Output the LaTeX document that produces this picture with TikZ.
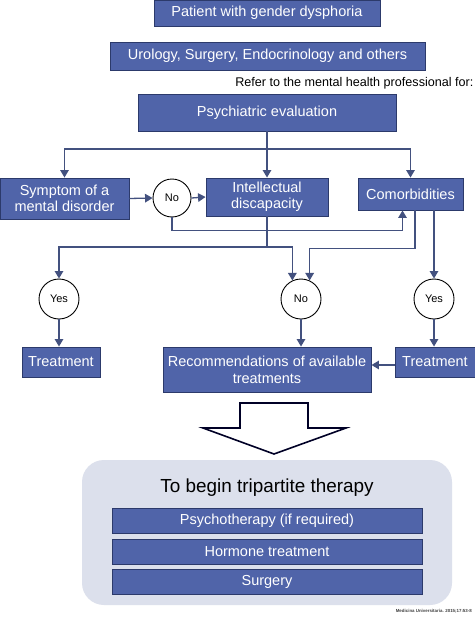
\documentclass[tikz,border=0pt]{standalone}
\usepackage{fontspec}
\setmainfont{Liberation Sans}
\usetikzlibrary{arrows.meta}
\definecolor{boxfill}{HTML}{5064A9}
\definecolor{boxline}{HTML}{2C3A6B}
\definecolor{conn}{HTML}{43517F}
\definecolor{panel}{HTML}{DCE0EC}
\tikzset{
  bluebox/.style={draw=boxline, line width=0.9pt, fill=boxfill, text=white, font=\fontsize{14.5}{16}\selectfont, align=center, inner sep=0pt, rectangle},
  decision/.style={circle, draw=black, line width=0.9pt, fill=white, minimum size=40pt, inner sep=0pt, font=\fontsize{11}{12}\selectfont},
  conline/.style={draw=conn, line width=1.3pt},
  arr/.style={conline, -{Triangle[width=8.5pt,length=7.5pt]}},
  note/.style={font=\fontsize{12.6}{14}\selectfont, text=black, inner sep=0pt},
  bigarrow/.style={draw=black!85!blue, line width=1.6pt, fill=white, line join=miter},
}
\begin{document}
\begin{tikzpicture}[x=1pt,y=-1pt]
\useasboundingbox (0,0) rectangle (474,618);
\fill[white] (0,0) rectangle (474,618);

% top boxes
\node[bluebox, minimum width=226pt, minimum height=26pt] (patient) at (267,13) {Patient with gender dysphoria};
\node[bluebox, minimum width=315pt, minimum height=28pt] (urology) at (267.5,56) {Urology, Surgery, Endocrinology and others};
\node[note, anchor=east] (refer) at (473.6,83.5) {Refer to the mental health professional for:};
\node[bluebox, minimum width=258pt, minimum height=37pt] (psych) at (267,112.5) {Psychiatric evaluation};

% second row
\node[bluebox, minimum width=129pt, minimum height=41pt] (symptom) at (64.5,198.5) {Symptom of a\\mental disorder};
\node[decision, minimum size=38pt] (no1) at (172,198) {No};
\node[bluebox, minimum width=122pt, minimum height=38pt] (intel) at (267,197) {Intellectual\\discapacity};
\node[bluebox, minimum width=105pt, minimum height=32pt] (comorb) at (410.5,194) {Comorbidities};

% third row
\node[decision] (yesL) at (59,299) {Yes};
\node[decision] (no2) at (301,299) {No};
\node[decision] (yesR) at (434,299) {Yes};

% fourth row
\node[bluebox, minimum width=78pt, minimum height=30pt] (treatL) at (61,362) {Treatment};
\node[bluebox, minimum width=208pt, minimum height=45pt, font=\fontsize{14.5}{17}\selectfont] (rec) at (267,369.5) {Recommendations of available\\treatments};
\node[bluebox, minimum width=80pt, minimum height=30pt] (treatR) at (435,362) {Treatment};

% connectors
\coordinate (j1) at (267,149);
\draw[arr] (psych.south) -- (intel.north);
\draw[arr] (j1) -| (symptom.north);
\draw[arr] (j1) -| (comorb.north);
\draw[arr] (symptom.east) -- (no1.west);
\draw[arr] (no1.east) -- (intel.west);
\draw[arr] (no1.south) -- ++(0,13) -| ([xshift=-8pt]comorb.south);
\coordinate (j2) at (267,247);
\draw[arr] (intel.south) -- (j2) -| (yesL.north);
\draw[arr] (j2) -| (no2.115);
\draw[arr] ([xshift=4.5pt]comorb.south) -- ++(0,38) -| (no2.65);
\draw[arr] (yesR.north |- comorb.south) -- (yesR.north);
\draw[arr] (yesL.south) -- (yesL.south |- treatL.north);
\draw[arr] (no2.south) -- (no2.south |- rec.north);
\draw[arr] (yesR.south) -- (yesR.south |- treatR.north);
\draw[arr] ([yshift=-3pt]treatR.west) -- ([yshift=-3pt]treatR.west -| rec.east);

% big hollow arrow
\draw[bigarrow] (240,403) -- (308,403) -- (308,428) -- (346,428) -- (274,454) -- (203,428) -- (240,428) -- cycle;

% panel
\fill[panel, rounded corners=22pt] (82,460) rectangle (452,605);
\node[font=\fontsize{18.9}{21}\selectfont, text=black, inner sep=0pt] (title) at (267,488) {To begin tripartite therapy};
\node[bluebox, minimum width=310pt, minimum height=25pt] (psychot) at (267,520.5) {Psychotherapy (if required)};
\node[bluebox, minimum width=310pt, minimum height=25pt] (hormone) at (267,551.5) {Hormone treatment};
\node[bluebox, minimum width=310pt, minimum height=25pt] (surgery) at (267,581.5) {Surgery};

\node[font=\bfseries\fontsize{4.4}{5}\selectfont, text=black!75, anchor=east, inner sep=0pt] (credit) at (472,611) {Medicina Universitaria. 2015;17:53-8};
\end{tikzpicture}
\end{document}
